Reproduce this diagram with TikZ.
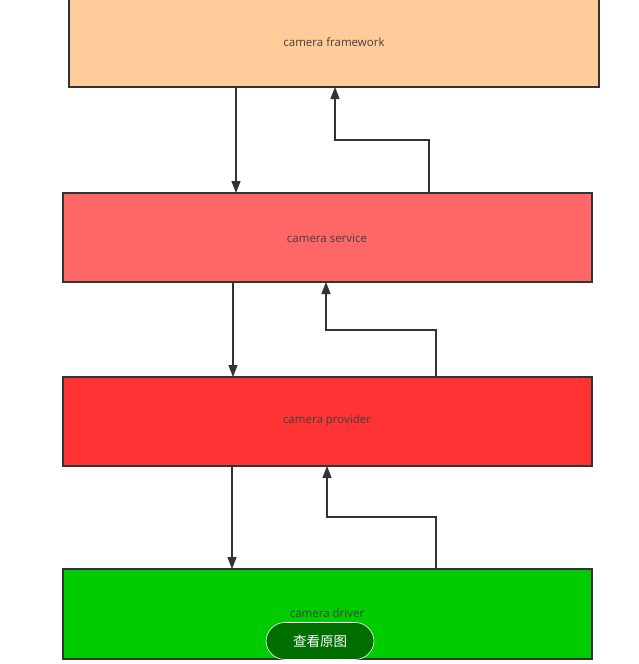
\documentclass[tikz,border=0pt]{standalone}
\usepackage{fontspec}
\setmainfont{Open Sans}
\newfontfamily\cjk{Noto Sans CJK SC}
\usetikzlibrary{arrows.meta}
\begin{document}
\begin{tikzpicture}[x=1pt,y=-1pt,
  box/.style={draw=black!80,line width=1.3pt,inner sep=0},
  lbl/.style={text=black!75,font=\fontsize{11.5}{13}\selectfont},
  arr/.style={draw=black!80,line width=1.3pt,-{Triangle[length=12pt,width=9pt]}}]
\useasboundingbox (0,0) rectangle (638,664);
\fill[white] (0,0) rectangle (638,664);
\definecolor{c1}{HTML}{FFCC99}\definecolor{c2}{HTML}{FF6666}
\definecolor{c3}{HTML}{FF3333}\definecolor{c4}{HTML}{00CC00}
\definecolor{btn}{HTML}{006E00}
\draw[box,fill=c1] (69,-5) rectangle (599,87);
\draw[box,fill=c2] (63,193) rectangle (592,282);
\draw[box,fill=c3] (63,377) rectangle (592,466);
\draw[box,fill=c4] (63,569) rectangle (592,659);
\node[lbl] (fw) at (334,42) {camera framework};
\node[lbl] (sv) at (327,238) {camera service};
\node[lbl] (pv) at (327,421) {camera provider};
\node[lbl] (dr) at (327,613) {camera driver};
\coordinate (a1) at (236,87); \coordinate (a2) at (236,193);
\coordinate (b1) at (233,282); \coordinate (b2) at (233,377);
\coordinate (c1) at (232,466); \coordinate (c2) at (232,569);
\draw[arr] (a1) -- (a2);
\draw[arr] (b1) -- (b2);
\draw[arr] (c1) -- (c2);
\coordinate (u1) at (429,193); \coordinate (u1e) at (335,87);
\coordinate (u2) at (436,377); \coordinate (u2e) at (326,282);
\coordinate (u3) at (436,569); \coordinate (u3e) at (327,466);
\draw[arr] (u1) -- (429,140) -- (335,140) -- (u1e);
\draw[arr] (u2) -- (436,330) -- (326,330) -- (u2e);
\draw[arr] (u3) -- (436,517) -- (327,517) -- (u3e);
\node[fill=btn,draw=white,line width=0.6pt,rounded corners=19pt,minimum width=108pt,minimum height=37pt,text=white,font=\cjk\fontsize{13.5}{15}\selectfont] (btn) at (320,641) {查看原图};
\end{tikzpicture}
\end{document}
